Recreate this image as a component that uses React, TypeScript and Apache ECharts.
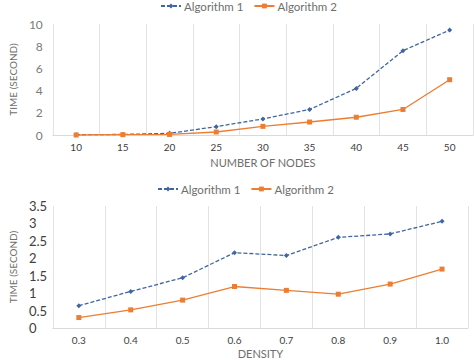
import React, { useEffect, useRef } from "react";
import * as echarts from "echarts";

const nodeCategories = ["10", "15", "20", "25", "30", "35", "40", "45", "50"];
const nodesAlg1 = [0.02, 0.05, 0.15, 0.75, 1.45, 2.3, 4.2, 7.6, 9.45];
const nodesAlg2 = [0.0, 0.03, 0.05, 0.27, 0.78, 1.17, 1.6, 2.3, 4.98];

const densityCategories = ["0.3", "0.4", "0.5", "0.6", "0.7", "0.8", "0.9", "1.0"];
const densityAlg1 = [0.64, 1.05, 1.44, 2.16, 2.08, 2.6, 2.7, 3.06];
const densityAlg2 = [0.3, 0.52, 0.8, 1.19, 1.08, 0.97, 1.26, 1.69];

const seriesNames = ["Algorithm 1", "Algorithm 2"];

const FONT = "Lato, 'Open Sans', sans-serif";
const BLUE = "#41669F";
const ORANGE = "#ED7D31";
const TEXT = "#6E6E6E";
const GRIDLINE = "#E3E3E3";

export default function App() {
  const ref = useRef<HTMLDivElement>(null);
  useEffect(() => {
    if (!ref.current) return;
    const chart = echarts.init(ref.current, undefined, { renderer: "svg" });
    const legendBase = {
      data: seriesNames,
      itemWidth: 20,
      itemHeight: 6,
      itemGap: 10,
      textStyle: { fontFamily: FONT, fontSize: 11.5, color: TEXT, padding: [0, 0, 0, -2] },
      padding: 0,
    };
    const xAxisBase = (data: string[], name: string, gridIndex: number, nameGap: number) => ({
      type: "category" as const,
      gridIndex,
      data,
      name,
      nameLocation: "middle" as const,
      nameGap,
      nameTextStyle: { fontFamily: FONT, fontSize: 11, color: TEXT },
      axisLine: { show: true, lineStyle: { color: "#D9D9D9" } },
      axisTick: { show: false },
      axisLabel: { fontFamily: FONT, fontSize: 10, color: "#404040", margin: 7 },
      splitLine: { show: true, lineStyle: { color: GRIDLINE, width: 1 } },
    });
    chart.setOption({
      animation: false,
      legend: [
        { ...legendBase, left: 160, top: 0 },
        { ...legendBase, left: 157, top: 183 },
      ],
      grid: [
        { left: 37, right: 1, top: 24, height: 111 },
        { left: 40, right: 6, top: 206, height: 126 },
      ],
      xAxis: [
        xAxisBase(nodeCategories, "NUMBER OF NODES", 0, 22),
        xAxisBase(densityCategories, "DENSITY", 1, 20),
      ],
      yAxis: [
        {
          type: "value",
          gridIndex: 0,
          min: 0,
          max: 10,
          interval: 2,
          name: "TIME (SECOND)",
          nameLocation: "middle",
          nameGap: 25,
          nameTextStyle: { fontFamily: FONT, fontSize: 10, color: TEXT },
          axisLine: { show: false },
          axisTick: { show: false },
          axisLabel: { fontFamily: FONT, fontSize: 12, color: "#7A7A7A", margin: 10 },
          splitLine: { show: false },
        },
        {
          type: "value",
          gridIndex: 1,
          min: 0,
          max: 3.5,
          interval: 0.5,
          name: "TIME (SECOND)",
          nameLocation: "middle",
          nameGap: 31,
          nameTextStyle: { fontFamily: FONT, fontSize: 10, color: TEXT },
          axisLine: { show: false },
          axisTick: { show: false },
          axisLabel: { fontFamily: FONT, fontSize: 13, color: "#404040", margin: 24, align: "left" },
          splitLine: { show: false },
        },
      ],
      series: [
        {
          name: seriesNames[0],
          type: "line",
          xAxisIndex: 0,
          yAxisIndex: 0,
          data: nodesAlg1,
          symbol: "diamond",
          symbolSize: 5,
          color: BLUE,
          lineStyle: { color: BLUE, width: 1.3, type: [4, 2] },
          z: 3,
        },
        {
          name: seriesNames[1],
          type: "line",
          xAxisIndex: 0,
          yAxisIndex: 0,
          data: nodesAlg2,
          symbol: "rect",
          symbolSize: 5,
          color: ORANGE,
          lineStyle: { color: ORANGE, width: 1.3 },
          z: 4,
        },
        {
          name: seriesNames[0],
          type: "line",
          xAxisIndex: 1,
          yAxisIndex: 1,
          data: densityAlg1,
          symbol: "diamond",
          symbolSize: 5,
          color: BLUE,
          lineStyle: { color: BLUE, width: 1.3, type: [4, 2] },
        },
        {
          name: seriesNames[1],
          type: "line",
          xAxisIndex: 1,
          yAxisIndex: 1,
          data: densityAlg2,
          symbol: "rect",
          symbolSize: 5,
          color: ORANGE,
          lineStyle: { color: ORANGE, width: 1.3 },
        },
      ],
    });
    return () => chart.dispose();
  }, []);
  return (
    <div
      ref={ref}
      style={{ position: "fixed", left: 0, top: 0, width: 474, height: 360, background: "#fff" }}
    />
  );
}
